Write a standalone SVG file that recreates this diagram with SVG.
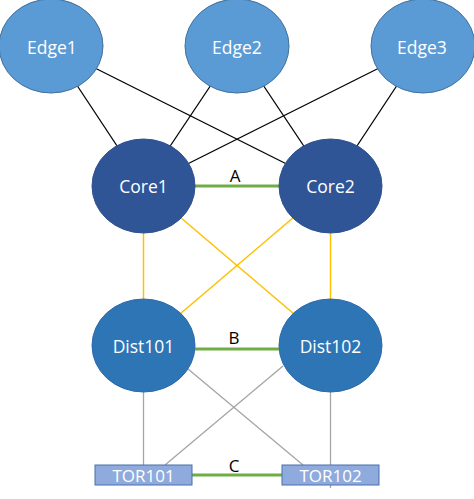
<svg xmlns="http://www.w3.org/2000/svg" width="474" height="499" viewBox="0 0 474 499">
<style>
.edge{fill:#5B9BD5;stroke:#41719C;stroke-width:1}
.core{fill:#2F5597;stroke:#2F528F;stroke-width:1}
.dist{fill:#2E75B6;stroke:#2E6AA8;stroke-width:1}
.tor{fill:#8FAADC;stroke:#4A6FAE;stroke-width:1}
.lbl{font-family:"Open Sans","Liberation Sans",Arial,sans-serif;font-size:17.5px;fill:#FFFFFF;text-anchor:middle}
.tlbl{font-family:"Open Sans","Liberation Sans",Arial,sans-serif;font-size:17px;fill:#FFFFFF;text-anchor:middle}
.link{font-family:"Open Sans","Liberation Sans",Arial,sans-serif;font-size:17px;fill:#000000;text-anchor:middle}
.blk{stroke:#000000;stroke-width:1.3}
.yel{stroke:#FFC000;stroke-width:1.5}
.gry{stroke:#A5A5A5;stroke-width:1.3}
.grn{stroke:#70AD47;stroke-width:3}
</style>
<g id="connectors" fill="none">
<line class="blk" x1="51" y1="46" x2="143.5" y2="186"/>
<line class="blk" x1="51" y1="46" x2="330.5" y2="186"/>
<line class="blk" x1="237" y1="46" x2="143.5" y2="186"/>
<line class="blk" x1="237" y1="46" x2="330.5" y2="186"/>
<line class="blk" x1="423" y1="46" x2="143.5" y2="186"/>
<line class="blk" x1="423" y1="46" x2="330.5" y2="186"/>
<line class="grn" x1="195" y1="186" x2="279" y2="186"/>
<line class="yel" x1="143.5" y1="186" x2="143.5" y2="345"/>
<line class="yel" x1="330.5" y1="186" x2="330.5" y2="345"/>
<line class="yel" x1="143.5" y1="186" x2="330.5" y2="345"/>
<line class="yel" x1="330.5" y1="186" x2="143.5" y2="345"/>
<line class="grn" x1="195" y1="349" x2="279" y2="349"/>
<line class="gry" x1="143.5" y1="390" x2="143.5" y2="465"/>
<line class="gry" x1="330.5" y1="390" x2="330.5" y2="488"/>
<line class="gry" x1="188" y1="369" x2="303" y2="465"/>
<line class="gry" x1="283" y1="366" x2="165" y2="465"/>
<line class="grn" x1="192" y1="475" x2="282" y2="475"/>
<text class="link" x="235" y="182">A</text>
<text class="link" x="234" y="344">B</text>
<text class="link" x="234" y="472">C</text>
</g>
<g id="Edge1"><ellipse class="edge" cx="51" cy="46" rx="52" ry="47"/><text class="lbl" x="52" y="54">Edge1</text></g>
<g id="Edge2"><ellipse class="edge" cx="237" cy="46" rx="52" ry="47"/><text class="lbl" x="237" y="54">Edge2</text></g>
<g id="Edge3"><ellipse class="edge" cx="423" cy="46" rx="52" ry="47"/><text class="lbl" x="422" y="54">Edge3</text></g>
<g id="Core1"><ellipse class="core" cx="143.5" cy="186" rx="51.5" ry="47"/><text class="lbl" x="143.5" y="193">Core1</text></g>
<g id="Core2"><ellipse class="core" cx="330.5" cy="186" rx="51.5" ry="47"/><text class="lbl" x="330.5" y="193">Core2</text></g>
<g id="Dist101"><ellipse class="dist" cx="143.5" cy="345.5" rx="51.5" ry="46.5"/><text class="lbl" x="143.5" y="353">Dist101</text></g>
<g id="Dist102"><ellipse class="dist" cx="330.5" cy="345.5" rx="51.5" ry="46.5"/><text class="lbl" x="330.5" y="353">Dist102</text></g>
<g id="TOR101"><rect class="tor" x="95" y="465" width="97" height="20"/><text class="tlbl" x="143.5" y="482">TOR101</text></g>
<g id="TOR102"><rect class="tor" x="282" y="465" width="97" height="20"/><text class="tlbl" x="330.5" y="482">TOR102</text></g>
</svg>
